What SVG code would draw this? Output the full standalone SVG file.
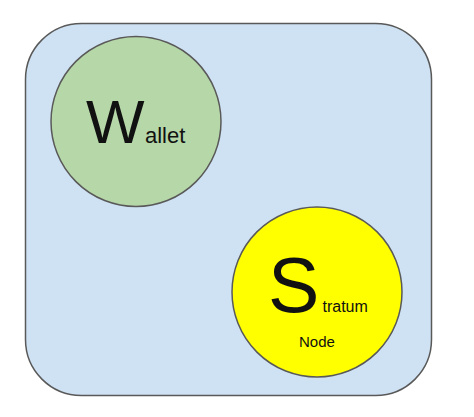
<svg xmlns="http://www.w3.org/2000/svg" width="474" height="417" viewBox="0 0 474 417">
<style>
.shape{stroke:#595959;stroke-width:1.5}
text{font-family:"Liberation Sans",Arial,sans-serif;fill:#111}
</style>
<rect width="474" height="417" fill="#ffffff"/>
<g id="container"><rect class="shape" x="25.5" y="23.5" width="406" height="372" rx="56" ry="56" fill="#cfe2f3"/></g>
<g id="wallet">
<circle class="shape" cx="136" cy="121.5" r="85" fill="#b6d7a8"/>
<text x="86" y="143" font-size="62">W</text>
<text x="145" y="143" font-size="22">allet</text>
</g>
<g id="stratum">
<circle class="shape" cx="317" cy="292" r="85" fill="#ffff00"/>
<text x="268" y="312" font-size="77">S</text>
<text x="322.5" y="312" font-size="16">tratum</text>
<text x="299" y="347" font-size="15">Node</text>
</g>
<g id="connectors"></g>
</svg>
